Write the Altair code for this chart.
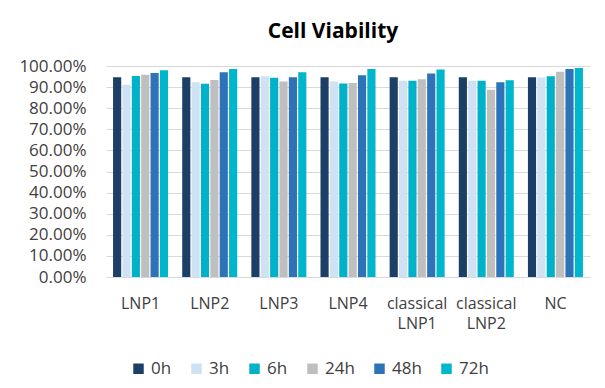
import altair as alt
import pandas as pd

categories = ["LNP1", "LNP2", "LNP3", "LNP4", "classical\nLNP1", "classical\nLNP2", "NC"]
series = ["0h", "3h", "6h", "24h", "48h", "72h"]
colors = ["#1B3F66", "#CFE2F3", "#00B2C9", "#BFBFBF", "#2E72B8", "#00B6CC"]

v_0h = [0.947, 0.947, 0.947, 0.947, 0.947, 0.947, 0.947]
v_3h = [0.911, 0.923, 0.952, 0.927, 0.930, 0.930, 0.945]
v_6h = [0.953, 0.916, 0.944, 0.917, 0.930, 0.930, 0.952]
v_24h = [0.958, 0.934, 0.927, 0.920, 0.937, 0.887, 0.973]
v_48h = [0.967, 0.970, 0.947, 0.956, 0.964, 0.923, 0.986]
v_72h = [0.980, 0.986, 0.970, 0.986, 0.983, 0.933, 0.991]

values = {"0h": v_0h, "3h": v_3h, "6h": v_6h, "24h": v_24h, "48h": v_48h, "72h": v_72h}
rows = []
for s in series:
    for c, v in zip(categories, values[s]):
        rows.append({"cat": c, "series": s, "value": v})
df = pd.DataFrame(rows)

FONT = "Open Sans"
LABEL = "#404040"

chart = alt.Chart(df).mark_bar().encode(
    x=alt.X("cat:N", sort=categories, title=None,
            scale=alt.Scale(paddingInner=0.2045, paddingOuter=0.102),
            axis=alt.Axis(labelAngle=0, labelExpr="split(datum.label, '\\n')",
                          ticks=False, domainColor="#D9D9D9", labelPadding=18,
                          labelFont=FONT, labelFontSize=16, labelColor=LABEL,
                          labelLineHeight=20)),
    xOffset=alt.XOffset("series:N", sort=series, scale=alt.Scale(paddingInner=0.13, paddingOuter=0)),
    y=alt.Y("value:Q", title=None,
            scale=alt.Scale(domain=[0, 1], nice=False),
            axis=alt.Axis(values=[i / 10 for i in range(11)], format=".2%",
                          ticks=False, domain=False, gridColor="#D9D9D9",
                          labelPadding=20, labelFont=FONT, labelFontSize=17,
                          labelColor=LABEL)),
    color=alt.Color("series:N", sort=series,
                    scale=alt.Scale(domain=series, range=colors),
                    legend=alt.Legend(title=None, orient="none", direction="horizontal",
                                      legendX=24, legendY=294, symbolType="square",
                                      symbolSize=110, symbolStrokeWidth=0,
                                      labelFont=FONT, labelFontSize=17, labelColor=LABEL,
                                      columnPadding=16, symbolOpacity=1)),
).properties(
    width=484, height=211,
    title=alt.TitleParams("Cell Viability", font=FONT, fontSize=21, fontWeight="bold",
                          color="#000000", offset=15, dx=-15),
    autosize=alt.AutoSizeParams(type="none"),
    padding={"left": 106, "top": 66, "right": 15, "bottom": 111},
).configure_view(stroke=None)

chart.save("out.html", embed_options={"renderer": "svg", "actions": False})
